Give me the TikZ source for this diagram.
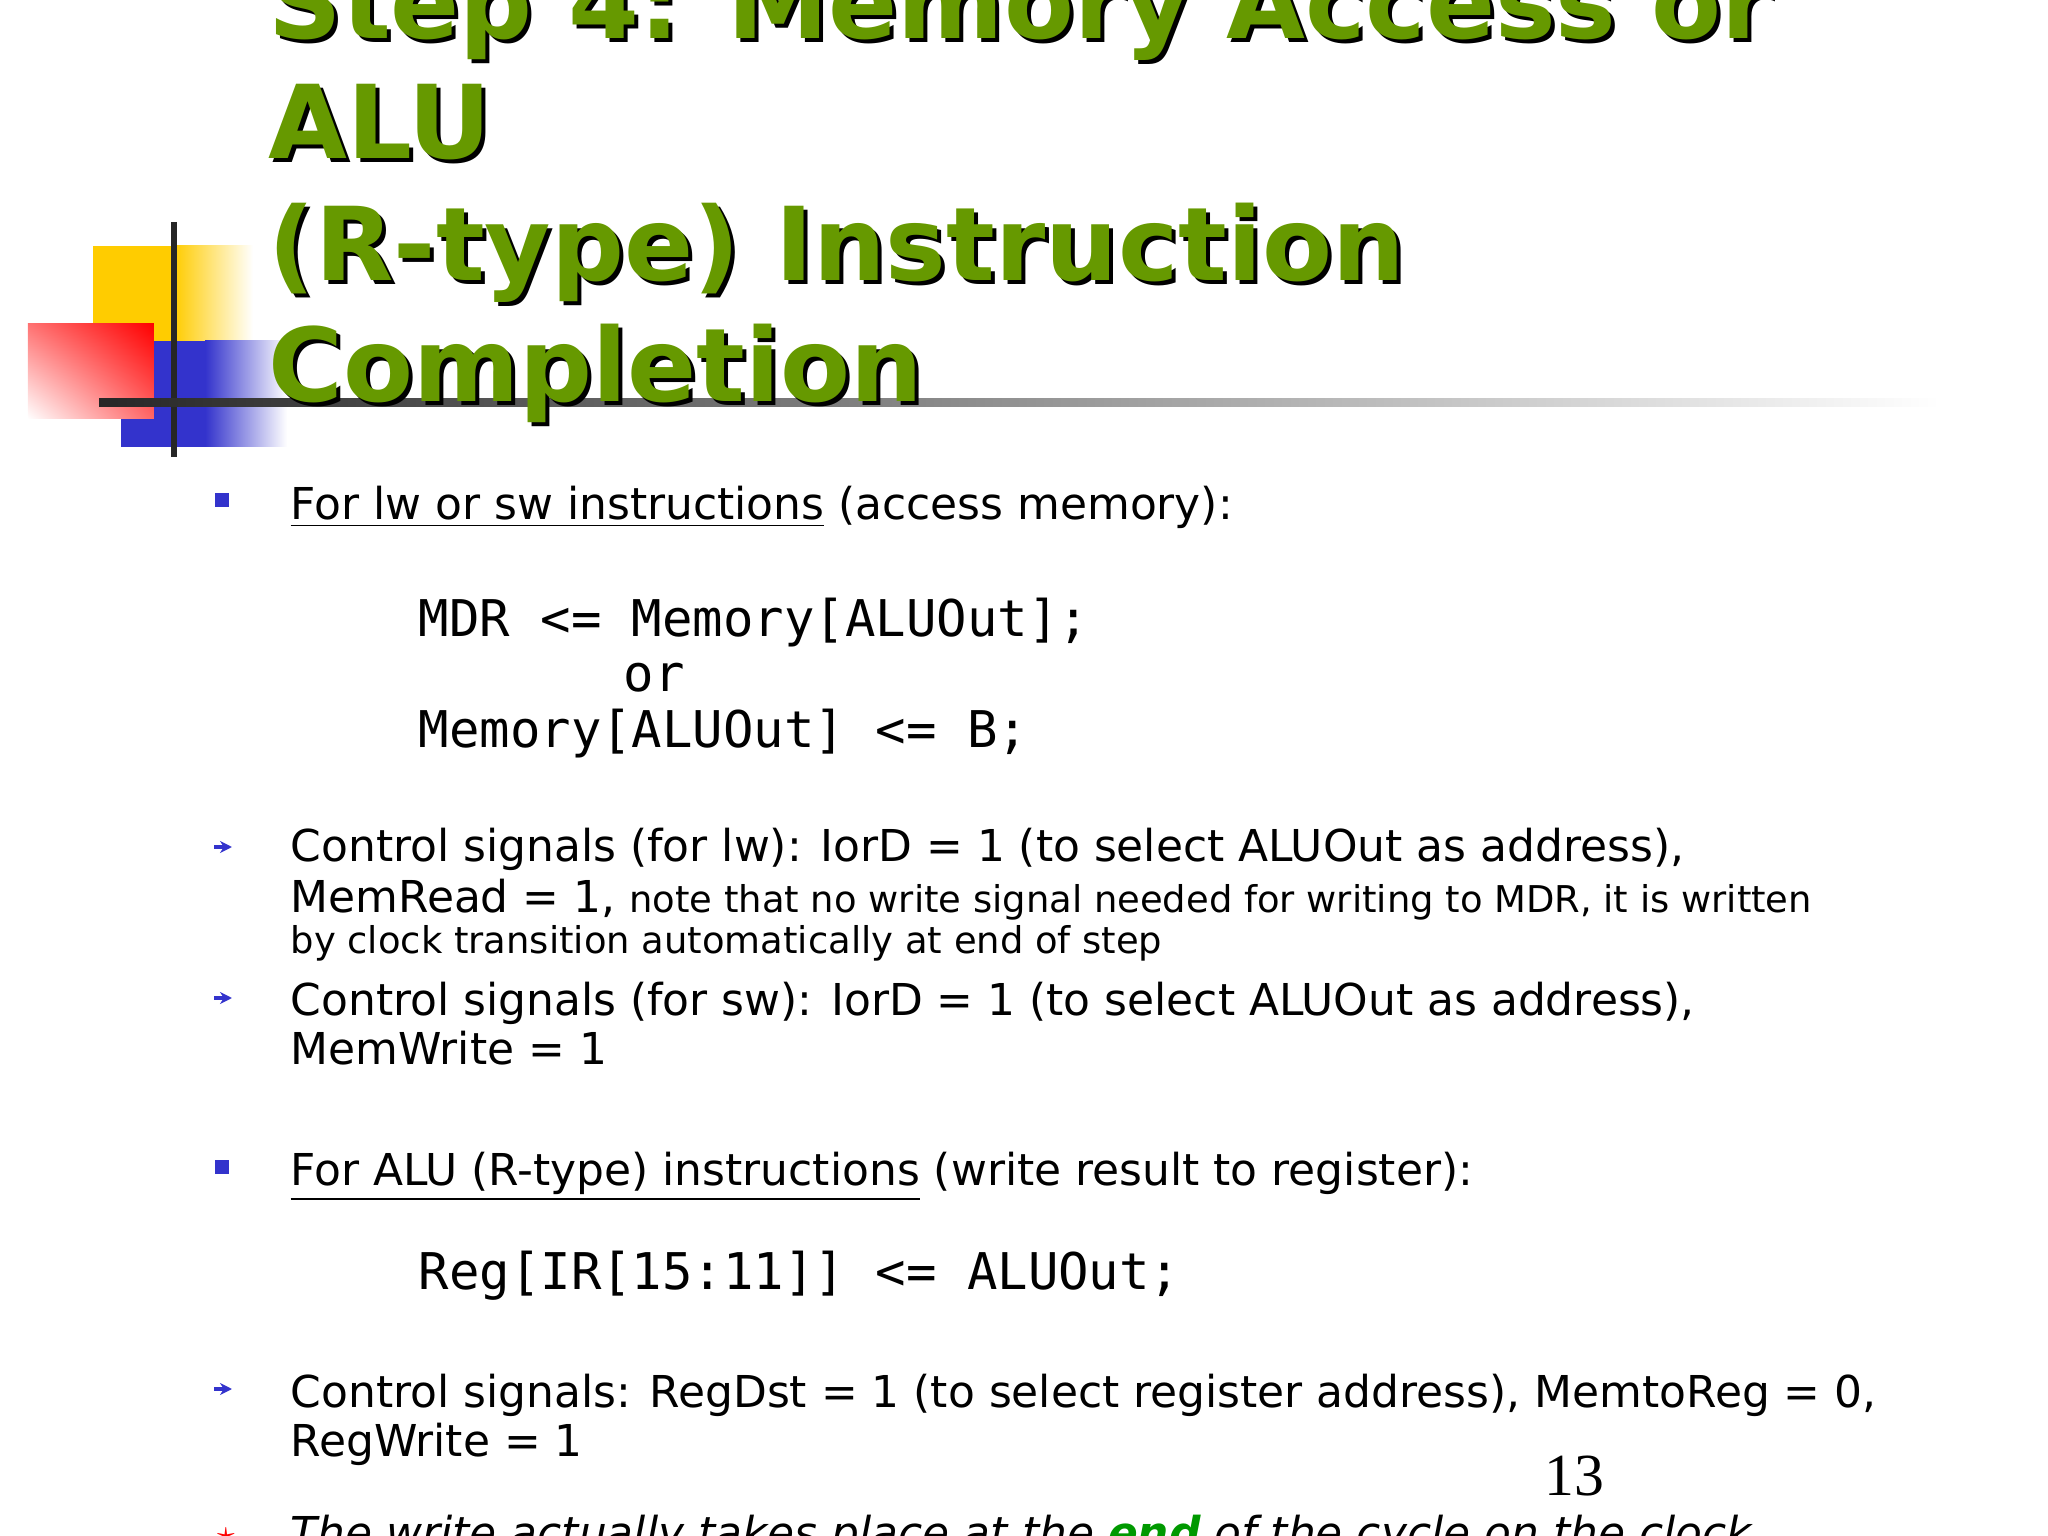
\documentclass[tikz,border=0pt]{standalone}
\usepackage{fontspec}
\setmainfont{DejaVu Sans}
\setmonofont{DejaVu Sans Mono}
\usetikzlibrary{shadings,arrows.meta}
\definecolor{titlegreen}{RGB}{102,153,0}
\definecolor{bulletblue}{RGB}{51,51,204}
\definecolor{logoyellow}{RGB}{255,204,0}
\tikzset{
  body/.style={anchor=base west,inner sep=0pt,font=\fontsize{12.5}{15}\selectfont},
  code/.style={anchor=base west,inner sep=0pt,font=\fontsize{14.4}{17}\ttfamily},
  title/.style={anchor=base west,inner sep=0pt,font=\fontsize{29}{34}\bfseries\selectfont},
  sqbullet/.style={fill=bulletblue,minimum size=0.14cm,inner sep=0pt},
  arrbullet/.style={-{Stealth[length=0.12cm,width=0.12cm]},bulletblue,line width=1.2pt}
}
\newcommand{\shadowtitle}[3]{%
  \node[title,text=black] at (#1+0.04,#2-0.04) {#3};
  \node[title,text=titlegreen] at (#1,#2) {#3};}
\begin{document}
\begin{tikzpicture}[x=1cm,y=1cm]
\useasboundingbox (0,0) rectangle (20.48,-15.36);
\clip (0,0) rectangle (20.48,-15.36);
% logo
\fill[logoyellow] (0.93,-2.46) rectangle (1.74,-3.41);
\shade[left color=logoyellow,right color=white] (1.74,-2.46) rectangle (2.53,-3.41);
\fill[bulletblue] (1.21,-3.41) rectangle (2.05,-4.47);
\shade[left color=bulletblue,right color=white] (2.05,-3.41) rectangle (2.87,-4.47);
\shade[upper right=red,upper left=red!55,lower left=white,lower right=red!60] (0.28,-3.24) rectangle (1.54,-4.19);
\draw[line width=1.5pt,black!85] (1.74,-2.22) -- (1.74,-4.57);
\shade[left color=black!85,right color=white] (0.99,-3.99) rectangle (19.4,-4.07);
% title
\shadowtitle{2.68}{-0.39}{Step 4: Memory Access or}
\shadowtitle{2.68}{-1.59}{ALU}
\shadowtitle{2.68}{-2.81}{(R-type) Instruction}
\shadowtitle{2.68}{-4.02}{Completion}
% memory access
\node[sqbullet] (b1) at (2.22,-5.0) {};
\node[body] (lw) at (2.90,-5.20) {\underline{For lw or sw instructions} (access memory):};
\node[code] (mdr) at (4.18,-6.37) {MDR <= Memory[ALUOut];};
\node[code] (or) at (6.23,-6.92) {or};
\node[code] (mem) at (4.18,-7.47) {Memory[ALUOut] <= B;};
\draw[arrbullet] (2.14,-8.47) -- (2.32,-8.47);
\node[body] (c1) at (2.90,-8.62) {Control signals (for lw): IorD = 1 (to select ALUOut as address),};
\node[body] (c1b) at (2.90,-9.12) {MemRead = 1, {\fontsize{10.5}{12}\selectfont note that no write signal needed for writing to MDR, it is written}};
\node[body,font=\fontsize{10.5}{12}\selectfont] (c1c) at (2.90,-9.53) {by clock transition automatically at end of step};
\draw[arrbullet] (2.14,-9.98) -- (2.32,-9.98);
\node[body] (c2) at (2.90,-10.15) {Control signals (for sw): IorD = 1 (to select ALUOut as address),};
\node[body] (c2b) at (2.90,-10.64) {MemWrite = 1};
% R-type
\node[sqbullet] (b2) at (2.22,-11.67) {};
\node[body] (alu) at (2.90,-11.85) {\underline{For ALU (R-type) instructions} (write result to register):};
\node[code] (reg) at (4.18,-12.89) {Reg[IR[15:11]] <= ALUOut;};
\draw[arrbullet] (2.14,-13.89) -- (2.32,-13.89);
\node[body] (c3) at (2.90,-14.07) {Control signals: RegDst = 1 (to select register address), MemtoReg = 0,};
\node[body] (c3b) at (2.90,-14.56) {RegWrite = 1};
\node[anchor=base,inner sep=0pt,font=\fontsize{17}{20}\selectfont] (page) at (15.74,-14.95) {\fontspec{Liberation Serif}13};
\node[red,font=\fontsize{10}{10}\selectfont] (star) at (2.26,-15.36) {$\star$};
\node[body] (note) at (2.90,-15.48) {\itshape The write actually takes place at the {\bfseries\color{green!60!black}end} of the cycle on the clock};
\end{tikzpicture}
\end{document}
